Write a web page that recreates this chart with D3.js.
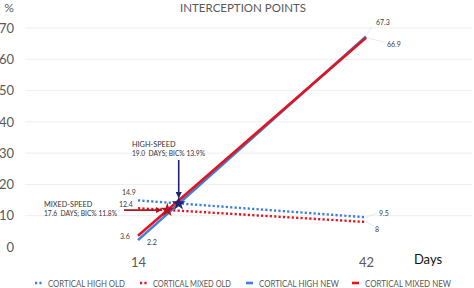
<!DOCTYPE html>
<html><head><meta charset="utf-8">
<script src="https://cdn.jsdelivr.net/npm/d3@7"></script>
<style>body{margin:0;background:#fff}svg{display:block}text{font-family:Lato,"Open Sans",sans-serif;white-space:pre}</style>
</head><body><svg id="c" width="474" height="288"></svg>
<script>
const days = [14, 42];
const highOld = [14.9, 9.5];
const mixedOld = [12.4, 8];
const highNew = [2.2, 67.3];
const mixedNew = [3.6, 66.9];
const yTicks = [0, 10, 20, 30, 40, 50, 60, 70];
const intercepts = [
  {name: "HIGH-SPEED", day: 19.0, bic: 13.9},
  {name: "MIXED-SPEED", day: 17.6, bic: 11.8}
];
const legendNames = ["CORTICAL HIGH OLD", "CORTICAL MIXED OLD", "CORTICAL HIGH NEW", "CORTICAL MIXED NEW"];

const blue = "#3d7fde", red = "#e3141e", navy = "#1c2670", darkred = "#b5121b";
const svg = d3.select("#c");
const x = d3.scaleLinear().domain([14, 42]).range([138, 366]);
const y = d3.scaleLinear().domain([0, 70]).range([247, 28]);

// gridlines
svg.append("g").selectAll("line").data(yTicks.filter(d => d > 0)).join("line")
  .attr("x1", 25).attr("x2", 472).attr("y1", d => y(d)).attr("y2", d => y(d))
  .attr("stroke", "#eeeeee").attr("stroke-width", 1);

// y axis labels
const yAxis = d3.axisLeft(y).tickValues(yTicks).tickSize(0).tickPadding(0);
const gy = svg.append("g").attr("transform", "translate(14,0)").call(yAxis);
gy.select(".domain").remove();
gy.selectAll("text").attr("font-size", 13).attr("fill", "#595959").attr("font-family", "Lato");

// x axis labels
const xAxis = d3.axisBottom(x).tickValues(days).tickSize(0).tickPadding(0).tickFormat(d3.format("d"));
const gx = svg.append("g").attr("transform", "translate(0,258)").call(xAxis);
gx.select(".domain").remove();
gx.selectAll("text").attr("font-size", 13).attr("fill", "#595959").attr("font-family", "Lato");

svg.append("text").attr("x", 428).attr("y", 264).attr("text-anchor", "middle")
  .attr("font-size", 13).attr("fill", "#111").text("Days");
svg.append("text").attr("x", 9).attr("y", 12).attr("text-anchor", "middle")
  .attr("font-size", 12).attr("fill", "#595959").text("%");
svg.append("text").attr("x", 243).attr("y", 12).attr("text-anchor", "middle")
  .attr("font-size", 11.5).attr("fill", "#595959").text("INTERCEPTION POINTS");

const line = d3.line().x(d => x(d[0])).y(d => y(d[1]));
const pts = arr => days.map((d, i) => [d, arr[i]]);

// leader lines
const leaders = [
  [[42, 67.3], [372, 26]], [[42, 66.9], [384, 42]],
  [[42, 9.5], [377, 213]], [[42, 8], [374, 226]]
];
svg.append("g").selectAll("line").data(leaders).join("line")
  .attr("x1", d => x(d[0][0])).attr("y1", d => y(d[0][1]))
  .attr("x2", d => d[1][0]).attr("y2", d => d[1][1])
  .attr("stroke", "#e4e4e4").attr("stroke-width", 0.8);

// dotted old lines
svg.append("path").attr("d", line(pts(highOld))).attr("fill", "none")
  .attr("stroke", blue).attr("stroke-width", 2.4).attr("stroke-dasharray", "2.2,2.2");
svg.append("path").attr("d", line(pts(mixedOld))).attr("fill", "none")
  .attr("stroke", red).attr("stroke-width", 2.4).attr("stroke-dasharray", "2.2,2.2");
// solid new lines
svg.append("path").attr("d", line(pts(highNew))).attr("fill", "none")
  .attr("stroke", blue).attr("stroke-width", 2.6);
svg.append("path").attr("d", line(pts(mixedNew))).attr("fill", "none")
  .attr("stroke", red).attr("stroke-width", 2.6);

// data labels
const dl = [
  [highNew[1], 376, 25, "67.3"], [mixedNew[1], 387, 47, "66.9"],
  [highOld[0], 122, 195, "14.9"], [mixedOld[0], 119, 207, "12.4"],
  [mixedNew[0], 120, 239, "3.6"], [highNew[0], 147, 245, "2.2"],
  [highOld[1], 379, 216, "9.5"], [mixedOld[1], 375, 232, "8"]
];
svg.append("g").selectAll("text").data(dl).join("text")
  .attr("x", d => d[1]).attr("y", d => d[2]).attr("font-size", 7)
  .attr("fill", "#404040").text(d => d[3]);

// arrow markers
const defs = svg.append("defs");
[["an", navy], ["ar", darkred]].forEach(([id, c]) => {
  defs.append("marker").attr("id", id).attr("viewBox", "0 0 10 10").attr("refX", 9).attr("refY", 5)
    .attr("markerWidth", 4).attr("markerHeight", 4).attr("orient", "auto")
    .append("path").attr("d", "M0,0L10,5L0,10z").attr("fill", c);
});

const hs = intercepts[0], ms = intercepts[1];
svg.append("line").attr("x1", x(hs.day)).attr("x2", x(hs.day)).attr("y1", 160).attr("y2", y(hs.bic) - 6)
  .attr("stroke", navy).attr("stroke-width", 1.6).attr("marker-end", "url(#an)");
svg.append("line").attr("x1", 124).attr("x2", x(ms.day) - 6).attr("y1", y(ms.bic)).attr("y2", y(ms.bic))
  .attr("stroke", darkred).attr("stroke-width", 1.6).attr("marker-end", "url(#ar)");

const star = d3.symbol().type(d3.symbolStar).size(60);
svg.append("path").attr("d", star()).attr("transform", `translate(${x(hs.day)},${y(hs.bic)})`).attr("fill", navy);
svg.append("path").attr("d", star()).attr("transform", `translate(${x(ms.day)},${y(ms.bic)})`).attr("fill", darkred);

const ann = svg.append("g").attr("font-size", 7.3).attr("fill", "#333");
ann.append("text").attr("x", 132).attr("y", 147).text(hs.name);
ann.append("text").attr("x", 132).attr("y", 156).attr("textLength", 73).attr("lengthAdjust", "spacingAndGlyphs")
  .text(`${hs.day.toFixed(1)}  DAYS; BIC% ${hs.bic}%`);
ann.append("text").attr("x", 44).attr("y", 207).text(ms.name);
ann.append("text").attr("x", 44).attr("y", 216).attr("textLength", 73).attr("lengthAdjust", "spacingAndGlyphs")
  .text(`${ms.day.toFixed(1)}  DAYS; BIC% ${ms.bic}%`);

// legend
const lx = [35, 140, 246, 352];
const lw = [77, 78, 80, 86];
const lg = svg.append("g");
legendNames.forEach((n, i) => {
  const c = i % 2 === 0 ? blue : red;
  if (i < 2) {
    lg.append("line").attr("x1", lx[i]).attr("x2", lx[i] + 8).attr("y1", 283).attr("y2", 283)
      .attr("stroke", c).attr("stroke-width", 2.4).attr("stroke-dasharray", "2.2,2.2");
  } else {
    lg.append("line").attr("x1", lx[i]).attr("x2", lx[i] + 7).attr("y1", 283).attr("y2", 283)
      .attr("stroke", c).attr("stroke-width", 2.6);
  }
  lg.append("text").attr("x", lx[i] + 13).attr("y", 287).attr("font-size", 10)
    .attr("textLength", lw[i]).attr("lengthAdjust", "spacingAndGlyphs")
    .attr("fill", "#595959").text(n);
});
</script></body></html>
